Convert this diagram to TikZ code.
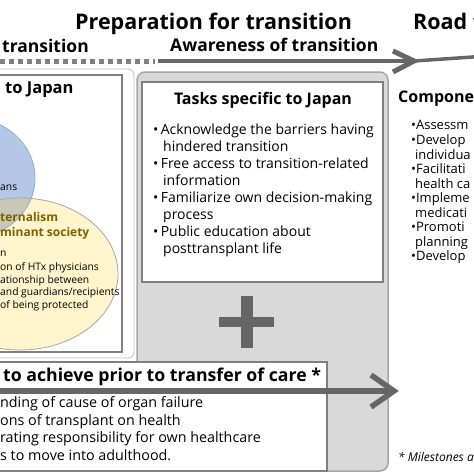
\documentclass[tikz,border=0pt]{standalone}
\usepackage{fontspec}
\setmainfont{Open Sans}
\definecolor{arrowgray}{HTML}{666666}
\definecolor{dashgray}{HTML}{808080}
\definecolor{panelfill}{HTML}{D9D9D9}
\definecolor{panelline}{HTML}{A6A6A6}
\definecolor{boxline}{HTML}{7F7F7F}
\definecolor{outerline}{HTML}{BFBFBF}
\definecolor{bluefill}{HTML}{B4C7E7}
\definecolor{blueline}{HTML}{8FAADC}
\definecolor{yellowfill}{HTML}{FFF5CC}
\definecolor{yellowline}{HTML}{A6A6A6}
\definecolor{overlapfill}{HTML}{C9C7B5}
\definecolor{browntext}{HTML}{7F6000}
\tikzset{
  txt/.style={inner sep=0pt, anchor=west, text height=0.7em, text depth=0.2em},
  ctxt/.style={inner sep=0pt, anchor=center, text height=0.7em, text depth=0.2em},
  bigtitle/.style={font=\fontsize{21.5}{25}\selectfont\bfseries},
  phase/.style={font=\fontsize{17.5}{20}\selectfont\bfseries},
  boxtitle/.style={font=\fontsize{16}{19}\selectfont\bfseries},
  taskitem/.style={font=\fontsize{14}{17}\selectfont},
  compitem/.style={font=\fontsize{13}{15}\selectfont},
  smallitem/.style={font=\fontsize{10.3}{12}\selectfont},
  smallbold/.style={font=\fontsize{12}{15}\selectfont\bfseries, text=browntext},
  bottomhead/.style={font=\fontsize{17.7}{21}\selectfont\bfseries},
  bottomitem/.style={font=\fontsize{14.3}{17}\selectfont},
  thickarrow/.style={draw=arrowgray, line width=6pt},
  chevron/.style={draw=arrowgray, line width=5.5pt, line join=miter},
}
\begin{document}
\begin{tikzpicture}[x=1pt,y=-1pt]
\useasboundingbox (0,0) rectangle (474,474);
\clip (0,0) rectangle (474,474);

% ---------- top titles and phase arrow ----------
\node[txt, bigtitle] (prep) at (75,27) {Preparation for transition};
\node[txt, bigtitle] (road) at (413,27) {Road t};
\node[txt, phase] (pre) at (2,50) {transition};
\node[txt, phase] (aware) at (170,49) {Awareness of transition};

\coordinate (dashA) at (0,61);
\coordinate (dashB) at (155,61);
\coordinate (solA) at (158,61);
\coordinate (tipT) at (414,61);
\coordinate (armT1) at (393,51);
\coordinate (armT2) at (393,72);
\coordinate (roadR) at (480,56.5);
\draw[draw=dashgray, line width=5pt, dash pattern=on 5pt off 4pt] (dashA) -- (dashB);
\draw[draw=arrowgray, line width=4pt] (solA) -- (tipT);
\draw[chevron, line width=5pt] (armT1) -- (tipT) -- (armT2);
\draw[draw=arrowgray, line width=3.5pt] (tipT) -- (roadR);

% ---------- left panel ----------
\draw[draw=outerline, line width=0.8pt, fill=white, rounded corners=6pt] (-10,69) rectangle (134,358);
\draw[draw=boxline, line width=1.5pt, fill=white] (-10,75) rectangle (122,352);
\node[txt, font=\fontsize{16.5}{19}\selectfont\bfseries] (ljapan) at (5,91) {to Japan};

\begin{scope}
  \clip (-10,75) rectangle (122,352);
  \fill[bluefill] (-30,178) ellipse [x radius=65, y radius=60];
  \fill[yellowfill] (20,274) ellipse [x radius=98, y radius=76];
  \begin{scope}
    \clip (-30,178) ellipse [x radius=65, y radius=60];
    \fill[overlapfill] (20,274) ellipse [x radius=98, y radius=76];
  \end{scope}
  \draw[blueline, line width=0.8pt] (-30,178) ellipse [x radius=65, y radius=60];
  \draw[yellowline, line width=0.8pt] (20,274) ellipse [x radius=98, y radius=76];
\end{scope}

\node[txt, smallitem] (lans) at (0,188) {ans};
\node[txt, smallbold] (lpat) at (0,219) {ternalism};
\node[txt, smallbold] (ldom) at (0,234) {minant society};
\node[txt, smallitem] (ly1) at (0,254) {n};
\node[txt, smallitem] (ly2) at (0,268) {on of HTx physicians};
\node[txt, smallitem] (ly3) at (0,280.5) {ationship between};
\node[txt, smallitem] (ly4) at (0,293) {and guardians/recipients};
\node[txt, smallitem] (ly5) at (0,305.5) {of being protected};

% ---------- central gray panel ----------
\draw[draw=panelline, line width=1.5pt, fill=panelfill, rounded corners=8pt] (137,72) rectangle (388,471);
\draw[draw=boxline, line width=1.5pt, fill=white] (142,82) rectangle (383,282);
\node[ctxt, boxtitle] (tasktitle) at (263,102) {Tasks specific to Japan};
\node[txt, taskitem] (t1) at (153,132) {\textbullet\,Acknowledge the barriers having};
\node[txt, taskitem] (t1b) at (163,149) {hindered transition};
\node[txt, taskitem] (t2) at (153,166) {\textbullet\,Free access to transition-related};
\node[txt, taskitem] (t2b) at (163,183) {information};
\node[txt, taskitem] (t3) at (153,200) {\textbullet\,Familiarize own decision-making};
\node[txt, taskitem] (t3b) at (163,217) {process};
\node[txt, taskitem] (t4) at (153,234) {\textbullet\,Public education about};
\node[txt, taskitem] (t4b) at (163,251) {posttransplant life};

% plus sign
\fill[arrowgray] (219,317) rectangle (274,327);
\fill[arrowgray] (241,296) rectangle (253,348);

% ---------- right column ----------
\node[txt, font=\fontsize{16}{19}\selectfont\bfseries] (comp) at (398,100) {Compone};
\node[txt, compitem] (c1) at (411,127) {\textbullet Assessm};
\node[txt, compitem] (c2) at (411,142) {\textbullet Develop};
\node[txt, compitem] (c2b) at (415,156.5) {individua};
\node[txt, compitem] (c3) at (411,171) {\textbullet Facilitati};
\node[txt, compitem] (c3b) at (415,185.5) {health ca};
\node[txt, compitem] (c4) at (411,200) {\textbullet Impleme};
\node[txt, compitem] (c4b) at (415,214.5) {medicati};
\node[txt, compitem] (c5) at (411,229) {\textbullet Promoti};
\node[txt, compitem] (c5b) at (415,243.5) {planning};
\node[txt, compitem] (c6) at (411,258) {\textbullet Develop};
\node[txt, font=\fontsize{12}{14}\selectfont\itshape] (miles) at (398,459) {* Milestones a};

% ---------- bottom box ----------
\draw[draw=boxline, line width=1.5pt, fill=white] (-10,362) rectangle (327,471);
\node[txt, bottomhead] (bhead) at (3,379) {to achieve prior to transfer of care *};
\node[txt, bottomitem] (b1) at (0,405) {nding of cause of organ failure};
\node[txt, bottomitem] (b2) at (0,423) {ons of transplant on health};
\node[txt, bottomitem] (b3) at (0,440) {rating responsibility for own healthcare};
\node[txt, bottomitem] (b4) at (0,458) {s to move into adulthood.};

\coordinate (bA) at (-10,391);
\coordinate (tipB) at (394,391);
\coordinate (armB1) at (371,375);
\coordinate (armB2) at (371,407);
\draw[thickarrow] (bA) -- (tipB);
\draw[chevron] (armB1) -- (tipB) -- (armB2);
\end{tikzpicture}
\end{document}
